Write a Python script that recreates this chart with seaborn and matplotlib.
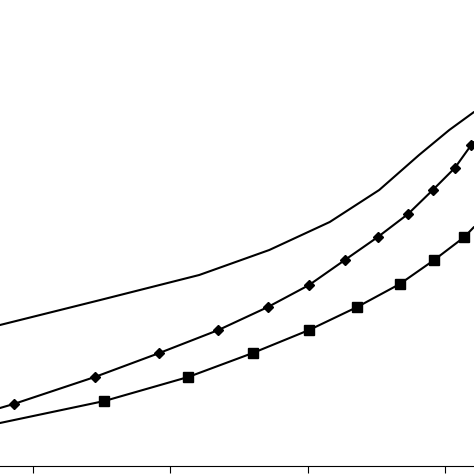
import matplotlib
matplotlib.use("Agg")
import matplotlib.pyplot as plt
import seaborn as sns

sns.set_style("white")

top_x = [-0.24, 0.49, 1.21, 1.72, 2.16, 2.52, 2.81, 3.03, 3.21]
top_y = [149, 174, 199, 224, 252, 284, 319, 344, 362]
dia_x = [-0.24, -0.14, 0.45, 0.92, 1.35, 1.71, 2.01, 2.27, 2.51, 2.73, 2.91, 3.07, 3.19, 3.21]
dia_y = [66, 70, 97, 121, 144, 167, 189, 214, 237, 260, 284, 306, 329, 332]
sq_x = [-0.24, 0.52, 1.13, 1.60, 2.01, 2.36, 2.67, 2.92, 3.14, 3.21]
sq_y = [51, 73, 97, 121, 144, 167, 190, 214, 237, 247]
dia_mx = dia_x[1:-1]; dia_my = dia_y[1:-1]
sq_mx = sq_x[1:-1]; sq_my = sq_y[1:-1]

fig = plt.figure(figsize=(4.74, 4.74), dpi=100)
ax = fig.add_axes([0, 8/474, 1, 466/474])
sns.lineplot(x=top_x, y=top_y, color="black", lw=1.5, ax=ax, sort=False)
sns.lineplot(x=dia_x, y=dia_y, color="black", lw=1.5, ax=ax, sort=False)
sns.lineplot(x=sq_x, y=sq_y, color="black", lw=1.5, ax=ax, sort=False)
ax.plot(dia_mx, dia_my, "D", color="black", ms=5, ls="none")
ax.plot(sq_mx, sq_my, "s", color="black", ms=6.5, ls="none")
ax.set_xlim(-0.24, 3.21)
ax.set_ylim(8, 474)
for s in ["top", "left", "right"]:
    ax.spines[s].set_visible(False)
ax.spines["bottom"].set_color("black")
ax.set_xticks([0, 1, 2, 3])
ax.set_xticklabels([])
ax.set_yticks([])
ax.tick_params(axis="x", direction="out", length=5, color="black", bottom=True)
fig.savefig("out.png", dpi=100)
